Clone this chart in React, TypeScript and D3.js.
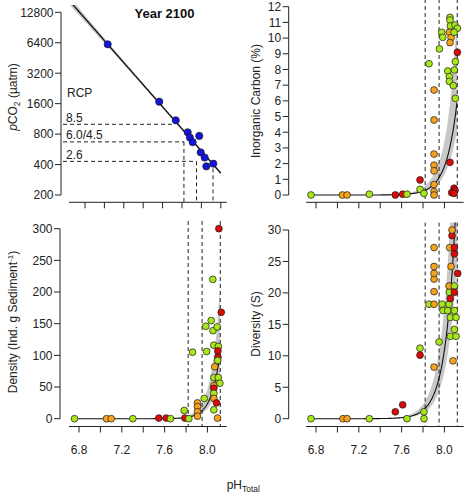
import React from "react";
import * as d3 from "d3";

type Pt = [number, number, string];

// Site colours
const groupColors: Record<string, string> = { g: "#a8e61d", o: "#f5a31e", r: "#dc0a0a" };
const pco2Color = "#1414dc";

// pH vs pCO2 (µatm)
const pco2Points: [number, number][] = [
  [7.034, 6180], [7.565, 1673], [7.736, 1095], [7.859, 834], [7.882, 739],
  [7.91, 666], [7.978, 768], [7.993, 528], [8.034, 469], [8.051, 384], [8.123, 408],
];

// pH vs inorganic carbon (%)
const inorganicCarbon: Pt[] = [
  [6.753, 0, "g"], [7.046, 0, "o"], [7.09, 0, "o"], [7.298, 0.05, "g"], [7.541, 0, "r"],
  [7.61, 0.05, "r"], [7.65, 0.05, "g"], [7.772, 0.96, "r"], [7.772, 0.36, "g"], [7.809, 0.1, "g"],
  [7.856, 8.37, "g"], [7.903, 6.69, "o"], [7.903, 4.78, "o"], [7.903, 2.61, "o"], [7.903, 1.9, "o"],
  [7.903, 1.54, "o"], [7.903, 0.66, "o"], [7.903, 0.21, "o"], [7.903, 0, "o"], [7.953, 9.31, "g"],
  [7.975, 10.37, "g"], [7.984, 10.05, "g"], [8.031, 7.9, "g"], [8.046, 7.54, "g"], [8.046, 7.24, "g"],
  [8.052, 11.32, "g"], [8.052, 11.15, "g"], [8.055, 10.77, "g"], [8.046, 10.37, "o"], [8.062, 10.03, "o"],
  [8.052, 9.71, "o"], [8.099, 10.83, "g"], [8.121, 10.62, "g"], [8.09, 10.37, "g"], [8.121, 9.09, "r"],
  [8.102, 8.5, "g"], [8.093, 7.97, "g"], [8.083, 6.97, "g"], [8.102, 6.16, "g"], [8.052, 2.08, "r"],
  [8.09, 0.43, "r"], [8.099, 0.3, "r"], [8.068, 0.15, "r"], [8.09, 0.1, "r"],
];

// pH vs density (ind. per g sediment)
const density: Pt[] = [
  [6.758, 0, "g"], [7.057, 0, "o"], [7.101, 0, "o"], [7.303, 0, "g"], [7.546, 1, "r"],
  [7.615, 1, "r"], [7.655, 0, "g"], [7.783, 13, "g"], [7.789, 1, "r"], [7.826, 0, "g"],
  [7.861, 105, "g"], [7.907, 25, "o"], [7.907, 19, "o"], [7.907, 11, "o"], [7.907, 4, "o"],
  [7.97, 32, "g"], [7.985, 146, "g"], [7.992, 106, "g"], [8.035, 155, "g"], [8.05, 220, "g"],
  [8.052, 139, "g"], [8.091, 145, "g"], [8.06, 116, "g"], [8.102, 114, "g"], [8.098, 107, "r"],
  [8.098, 97, "r"], [8.096, 92, "g"], [8.068, 82, "o"], [8.06, 65, "g"], [8.102, 65, "g"],
  [8.116, 56, "g"], [8.06, 52, "o"], [8.06, 48, "r"], [8.06, 40, "g"], [8.06, 32, "o"],
  [8.06, 14, "g"], [8.085, 25, "r"], [8.094, 1, "o"], [8.129, 168, "r"], [8.107, 300, "r"],
];

// pH vs diversity (S)
const diversity: Pt[] = [
  [6.753, 0, "g"], [7.052, 0, "o"], [7.09, 0, "o"], [7.298, 0, "g"], [7.541, 1.1, "r"],
  [7.61, 2.2, "r"], [7.65, 0, "g"], [7.772, 11.2, "g"], [7.772, 10.1, "r"], [7.809, 1.1, "g"],
  [7.809, 0, "g"], [7.856, 18.2, "g"], [7.903, 18.2, "o"], [7.903, 20.2, "o"], [7.903, 22.2, "o"],
  [7.903, 23.1, "o"], [7.903, 24.2, "o"], [7.903, 27.2, "o"], [7.903, 8.2, "o"], [7.95, 12.2, "g"],
  [7.978, 18.2, "g"], [7.987, 17.2, "g"], [8.031, 17.2, "g"], [8.043, 18.2, "g"], [8.046, 20.1, "g"],
  [8.043, 21.1, "o"], [8.055, 19.1, "r"], [8.055, 16.1, "g"], [8.055, 13.1, "g"], [8.093, 21.1, "g"],
  [8.093, 20.1, "r"], [8.093, 17.2, "g"], [8.108, 16.1, "g"], [8.093, 14.2, "g"], [8.108, 13.1, "g"],
  [8.08, 9.2, "o"], [8.062, 24.2, "o"], [8.049, 27.2, "o"], [8.093, 27.2, "r"], [8.093, 26.2, "r"],
  [8.124, 23.1, "r"], [8.071, 29.1, "r"], [8.071, 30.0, "o"],
];

// RCP scenarios for 2100
const rcpLabels = ["8.5", "6.0/4.5", "2.6"];
const rcpLevels = [1000, 670, 430];
const rcpHEnds = [7.72, 7.82, 7.95];
const rcpPH = [7.82, 7.95, 8.12];
const rcpVStarts = [670, 430, 430];

// Tick values
const pco2Ticks = [200, 400, 800, 1600, 3200, 6400, 12800];
const icTicks = [0, 1, 2, 3, 4, 5, 6, 7, 8, 9, 10, 11, 12];
const densityTicks = [0, 50, 100, 150, 200, 250, 300];
const diversityTicks = [0, 5, 10, 15, 20, 25, 30];
const phTicksTop = [6.8, 7.0, 7.2, 7.4, 7.6, 7.8, 8.0, 8.2];
const phTicks = [6.8, 7.0, 7.2, 7.4, 7.6, 7.8, 8.0];
const phLabels = [6.8, 7.2, 7.6, 8.0];

// Fitted models: log10(pCO2) linear in pH; log-link exponential models for the rest,
// with confidence limits given as widths on the log scale
const pco2Fit = { a: 11.4717, b: -1.092 };
const icFit = { a: -79.395, b: 10, hiW: 0.62, loW: 0.34 };
const densityFit = { a: -96.83, b: 12.5, hiW: 0.66, loW: 0.4 };
const diversityFit = { a: -81.6075, b: 10.5, hiW: 0.48, loW: 0.38 };
const fitRange = [6.753, 8.12];

const FONT = "'Liberation Sans', Arial, Helvetica, sans-serif";

type Fit = { a: number; b: number; hiW: number; loW: number };

function fitCurves(fit: Fit, x: d3.ScaleLinear<number, number>, y: d3.ScaleLinear<number, number>) {
  const ph = d3.range(fitRange[0], fitRange[1] + 1e-9, 0.004);
  const rows = ph.map((p) => {
    const eta = fit.a + fit.b * p;
    const spread = 1 + 0.6 * Math.abs(p - 8.0);
    return { p, m: Math.exp(eta), lo: Math.exp(eta - fit.loW * spread), hi: Math.exp(eta + fit.hiW * spread) };
  });
  const area = d3.area<any>().x((d) => x(d.p)).y0((d) => y(d.lo)).y1((d) => y(d.hi));
  const line = d3.line<any>().x((d) => x(d.p)).y((d) => y(d.m));
  return { band: area(rows) as string, line: line(rows) as string };
}

function Points({ data, x, y }: { data: Pt[]; x: any; y: any }) {
  return (
    <g>
      {data.map((d, i) => (
        <circle key={i} cx={x(d[0])} cy={y(d[1])} r={3.4} fill={groupColors[d[2]]} stroke="#1a1a1a" strokeWidth={0.7} />
      ))}
    </g>
  );
}

function YAxis({ ticks, y, x0 }: { ticks: number[]; y: any; x0: number }) {
  const ys = ticks.map((t) => y(t));
  return (
    <g>
      <line x1={x0} x2={x0} y1={Math.min(...ys)} y2={Math.max(...ys)} stroke="#222" strokeWidth={1} />
      {ticks.map((t) => (
        <g key={t}>
          <line x1={x0 - 6} x2={x0} y1={y(t)} y2={y(t)} stroke="#222" strokeWidth={1} />
          <text x={x0 - 7.5} y={y(t)} dy="0.36em" textAnchor="end" fontSize={12} fill="#222">
            {String(t)}
          </text>
        </g>
      ))}
    </g>
  );
}

function XAxis({ ticks, x, y0, labels }: { ticks: number[]; x: any; y0: number; labels?: number[] }) {
  const [r0, r1] = x.range();
  return (
    <g>
      <line x1={r0} x2={r1} y1={y0} y2={y0} stroke="#222" strokeWidth={1} />
      {ticks.map((t) => (
        <line key={t} x1={x(t)} x2={x(t)} y1={y0} y2={y0 + 6} stroke="#222" strokeWidth={1} />
      ))}
      {(labels || []).map((t) => (
        <text key={t} x={x(t)} y={y0 + 27} textAnchor="middle" fontSize={12} fill="#222">
          {t.toFixed(1)}
        </text>
      ))}
    </g>
  );
}

export default function App() {
  // Scales
  const xTL = d3.scaleLinear().domain([6.635, 8.261]).range([69, 226.7]);
  const yTL = d3.scaleLog().base(2).domain([200, 12800]).range([195, 12.3]);
  const xL = d3.scaleLinear().domain([6.7065, 8.18]).range([69, 226.7]);
  const xR = d3.scaleLinear().domain([6.7065, 8.18]).range([306, 463.7]);
  const yTR = d3.scaleLinear().domain([0, 12]).range([195, 6.7]);
  const yBL = d3.scaleLinear().domain([0, 300]).range([418.7, 228.7]);
  const yBR = d3.scaleLinear().domain([0, 30]).range([418.7, 230]);

  // pCO2 regression with narrow confidence band
  const phLine = d3.range(6.6, 8.2001, 0.01);
  const pco2Rows = phLine.map((p) => {
    const m = pco2Fit.a + pco2Fit.b * p;
    const hw = 0.012 + 0.022 * (p - 7.75) ** 2;
    return { p, m: 10 ** m, lo: 10 ** (m - hw), hi: 10 ** (m + hw) };
  });
  const pco2Band = d3.area<any>().x((d) => xTL(d.p)).y0((d) => yTL(d.lo)).y1((d) => yTL(d.hi))(pco2Rows) as string;
  const pco2Line = d3.line<any>().x((d) => xTL(d.p)).y((d) => yTL(d.m))(pco2Rows) as string;

  const ic = fitCurves(icFit, xR, yTR);
  const den = fitCurves(densityFit, xL, yBL);
  const div = fitCurves(diversityFit, xR, yBR);

  const dash = "4,3";

  return (
    <svg width={474} height={497} style={{ position: "absolute", left: 0, top: 0, background: "#fff" }} fontFamily={FONT}>
      <defs>
        <clipPath id="clipTL"><rect x={69} y={5} width={157.7} height={197.3} /></clipPath>
        <clipPath id="clipTR"><rect x={306} y={-1} width={157.7} height={203.5} /></clipPath>
        <clipPath id="clipBL"><rect x={69} y={221} width={157.7} height={205.5} /></clipPath>
        <clipPath id="clipBR"><rect x={306} y={222.5} width={157.7} height={204} /></clipPath>
      </defs>

      {/* Panel: pCO2 */}
      <g>
        <g clipPath="url(#clipTL)">
          <path d={pco2Band} fill="#c8c8c8" />
          <path d={pco2Line} fill="none" stroke="#111" strokeWidth={1.3} />
        </g>
        {rcpLevels.map((lv, i) => (
          <line key={"h" + i} x1={63} x2={xTL(rcpHEnds[i])} y1={yTL(lv)} y2={yTL(lv)} stroke="#222" strokeWidth={1} strokeDasharray={dash} />
        ))}
        {rcpPH.map((p, i) => (
          <line key={"v" + i} x1={xTL(p)} x2={xTL(p)} y1={yTL(rcpVStarts[i])} y2={202.3} stroke="#222" strokeWidth={1} strokeDasharray={dash} />
        ))}
        <text x={67} y={97} fontSize={12} fill="#222">RCP</text>
        {rcpLabels.map((lb, i) => (
          <text key={lb} x={66} y={yTL(rcpLevels[i]) - 2.5} fontSize={12} fill="#222">{lb}</text>
        ))}
        {pco2Points.map((d, i) => (
          <circle key={i} cx={xTL(d[0])} cy={yTL(d[1])} r={3.6} fill={pco2Color} stroke="#1a1a1a" strokeWidth={0.7} />
        ))}
        <YAxis ticks={pco2Ticks} y={yTL} x0={61} />
        <XAxis ticks={phTicksTop} x={xTL} y0={202.3} />
        <text x={164.5} y={18} textAnchor="middle" fontSize={13} fontWeight="bold" fill="#111">Year 2100</text>
        <text transform="translate(16.5,97) rotate(-90)" textAnchor="middle" fontSize={12} fill="#222">
          <tspan fontStyle="italic">p</tspan>CO<tspan fontSize={8.5} dy={3}>2</tspan>
          <tspan dy={-3}> (µatm)</tspan>
        </text>
      </g>

      {/* Panel: inorganic carbon */}
      <g>
        <g clipPath="url(#clipTR)">
          <path d={ic.band} fill="#c8c8c8" />
          {rcpPH.map((p, i) => (
            <line key={i} x1={xR(p)} x2={xR(p)} y1={-1} y2={202.3} stroke="#222" strokeWidth={1} strokeDasharray={dash} />
          ))}
          <path d={ic.line} fill="none" stroke="#111" strokeWidth={1.1} />
        </g>
        <Points data={inorganicCarbon} x={xR} y={yTR} />
        <YAxis ticks={icTicks} y={yTR} x0={288.7} />
        <XAxis ticks={phTicks} x={xR} y0={202.3} />
        <text transform="translate(259.5,101) rotate(-90)" textAnchor="middle" fontSize={12} fill="#222">Inorganic Carbon (%)</text>
      </g>

      {/* Panel: density */}
      <g>
        <g clipPath="url(#clipBL)">
          <path d={den.band} fill="#c8c8c8" />
          {rcpPH.map((p, i) => (
            <line key={i} x1={xL(p)} x2={xL(p)} y1={221} y2={426.5} stroke="#222" strokeWidth={1} strokeDasharray={dash} />
          ))}
          <path d={den.line} fill="none" stroke="#111" strokeWidth={1.1} />
        </g>
        <Points data={density} x={xL} y={yBL} />
        <YAxis ticks={densityTicks} y={yBL} x0={60} />
        <XAxis ticks={phTicks} x={xL} y0={426.5} labels={phLabels} />
        <text transform="translate(16.5,322) rotate(-90)" textAnchor="middle" fontSize={12} fill="#222">
          Density (Ind. g Sediment<tspan fontSize={8} dy={-4}>-1</tspan><tspan dy={4}>)</tspan>
        </text>
      </g>

      {/* Panel: diversity */}
      <g>
        <g clipPath="url(#clipBR)">
          <path d={div.band} fill="#c8c8c8" />
          {rcpPH.map((p, i) => (
            <line key={i} x1={xR(p)} x2={xR(p)} y1={222.5} y2={426.5} stroke="#222" strokeWidth={1} strokeDasharray={dash} />
          ))}
          <path d={div.line} fill="none" stroke="#111" strokeWidth={1.1} />
        </g>
        <Points data={diversity} x={xR} y={yBR} />
        <YAxis ticks={diversityTicks} y={yBR} x0={288.7} />
        <XAxis ticks={phTicks} x={xR} y0={426.5} labels={phLabels} />
        <text transform="translate(259.5,324) rotate(-90)" textAnchor="middle" fontSize={12} fill="#222">Diversity (S)</text>
      </g>

      <text x={226.7} y={488.5} fontSize={12} fill="#222">
        pH<tspan fontSize={8.5} dy={3}>Total</tspan>
      </text>
    </svg>
  );
}
